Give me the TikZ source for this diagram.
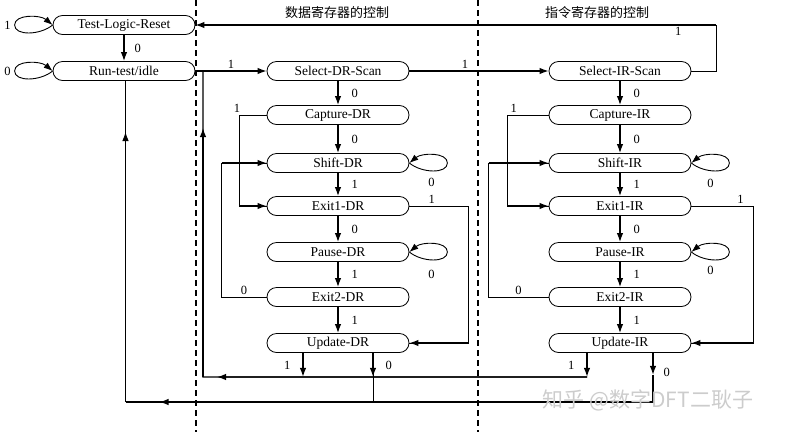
\documentclass[tikz,border=0pt]{standalone}
\usepackage{fontspec}
\setmainfont{Liberation Serif}
\newfontfamily\cjk{Noto Sans CJK SC}
\usepackage{tikz}
\usetikzlibrary{arrows.meta,positioning}

\begin{document}
\begin{tikzpicture}[x=1pt, y=-1pt,
    fsm/.style={draw, line width=0.8pt, rounded corners=9.5pt, minimum width=142pt,
      minimum height=19pt, inner sep=0pt, font=\fontsize{13.5}{15}\selectfont},
    lbl/.style={font=\fontsize{12.5}{14}\selectfont, inner sep=2pt},
    bus/.style={line width=1.3pt},
    wire/.style={line width=0.9pt},
    tip/.style={-{Latex[length=9pt,width=6.5pt]}},
    divider/.style={line width=1.4pt, dash pattern=on 6pt off 4pt},
    title/.style={font=\cjk\fontsize{13}{15}\selectfont}]
        \useasboundingbox (0,0) rectangle (785,432);
        % column dividers and titles
        \draw[divider] (196,0) -- (196,432);
        \draw[divider] (478,0) -- (478,432);
        \node[title] (tdr) at (337,13) {数据寄存器的控制};
        \node[title] (tir) at (597,13) {指令寄存器的控制};

        % reset and idle
        \node[fsm] (tlr) at (124,25) {Test-Logic-Reset};
        \node[fsm] (rti) at (124,71) {Run-test/idle};
        % data register column
        \node[fsm] (sdr) at (338,71) {Select-DR-Scan};
        \node[fsm] (cdr) at (338,115) {Capture-DR};
        \node[fsm] (shdr) at (338,163) {Shift-DR};
        \node[fsm] (e1dr) at (338,206) {Exit1-DR};
        \node[fsm] (pdr) at (338,252) {Pause-DR};
        \node[fsm] (e2dr) at (338,297) {Exit2-DR};
        \node[fsm] (udr) at (338,343) {Update-DR};
        % instruction register column
        \node[fsm] (sir) at (620,71) {Select-IR-Scan};
        \node[fsm] (cir) at (620,115) {Capture-IR};
        \node[fsm] (shir) at (620,163) {Shift-IR};
        \node[fsm] (e1ir) at (620,206) {Exit1-IR};
        \node[fsm] (pir) at (620,252) {Pause-IR};
        \node[fsm] (e2ir) at (620,297) {Exit2-IR};
        \node[fsm] (uir) at (620,343) {Update-IR};

        % self loops
        \draw[wire,tip] (tlr.west) .. controls +(-140:16pt) and +(-90:11pt) .. ([xshift=-38pt]tlr.west)
          .. controls +(90:11pt) and +(140:16pt) .. (tlr.west);
        \node[lbl] (ltlr) at ([xshift=-45pt]tlr.west) {1};
        \draw[wire,tip] (rti.west) .. controls +(-140:16pt) and +(-90:11pt) .. ([xshift=-38pt]rti.west)
          .. controls +(90:11pt) and +(140:16pt) .. (rti.west);
        \node[lbl] (lrti) at ([xshift=-45pt]rti.west) {0};
        \draw[wire,tip] (shdr.east) .. controls +(-40:16pt) and +(-90:11pt) .. ([xshift=38pt]shdr.east)
          .. controls +(90:11pt) and +(40:16pt) .. (shdr.east);
        \node[lbl] (lshdr) at ([xshift=22pt,yshift=-19pt]shdr.east) {0};
        \draw[wire,tip] (pdr.east) .. controls +(-40:16pt) and +(-90:11pt) .. ([xshift=38pt]pdr.east)
          .. controls +(90:11pt) and +(40:16pt) .. (pdr.east);
        \node[lbl] (lpdr) at ([xshift=22pt,yshift=-22pt]pdr.east) {0};
        \draw[wire,tip] (shir.east) .. controls +(-40:16pt) and +(-90:11pt) .. ([xshift=38pt]shir.east)
          .. controls +(90:11pt) and +(40:16pt) .. (shir.east);
        \node[lbl] (lshir) at ([xshift=19pt,yshift=-20pt]shir.east) {0};
        \draw[wire,tip] (pir.east) .. controls +(-40:16pt) and +(-90:11pt) .. ([xshift=38pt]pir.east)
          .. controls +(90:11pt) and +(40:16pt) .. (pir.east);
        \node[lbl] (lpir) at ([xshift=19pt,yshift=-18pt]pir.east) {0};

        % straight transitions
        \draw[bus,tip] (tlr) -- node[lbl,right=8pt]{0} (rti);
        \draw[bus,tip] (rti.east) -- node[lbl,above]{1} (sdr.west);
        \draw[bus,tip] (sdr.east) -- node[lbl,above,pos=0.4]{1} (sir.west);
        \draw[bus,tip] (sdr) -- node[lbl,right=11pt]{0} (cdr);
        \draw[bus,tip] (cdr) -- node[lbl,right=11pt]{0} (shdr);
        \draw[bus,tip] (shdr) -- node[lbl,right=11pt]{1} (e1dr);
        \draw[bus,tip] (e1dr) -- node[lbl,right=11pt]{0} (pdr);
        \draw[bus,tip] (pdr) -- node[lbl,right=11pt]{1} (e2dr);
        \draw[bus,tip] (e2dr) -- node[lbl,right=11pt]{1} (udr);
        \draw[bus,tip] (sir) -- node[lbl,right=11pt]{0} (cir);
        \draw[bus,tip] (cir) -- node[lbl,right=11pt]{0} (shir);
        \draw[bus,tip] (shir) -- node[lbl,right=11pt]{1} (e1ir);
        \draw[bus,tip] (e1ir) -- node[lbl,right=11pt]{0} (pir);
        \draw[bus,tip] (pir) -- node[lbl,right=11pt]{1} (e2ir);
        \draw[bus,tip] (e2ir) -- node[lbl,right=11pt]{1} (uir);

        % side branches, data register
        \draw[wire] (cdr.west) -- ++(-27,0) coordinate (kcdr) node[lbl,above,pos=1.1]{1} |- (e1dr.west);
        \draw[bus,tip] (kcdr |- e1dr.west) -- (e1dr.west);
        \draw[wire] (e2dr.west) -- node[lbl,above]{0} ++(-45,0) coordinate (ke2dr) |- (shdr.west);
        \draw[bus,tip] (ke2dr |- shdr.west) -- (shdr.west);
        \draw[wire] (e1dr.east) -- node[lbl,above,pos=0.38]{1} ++(59,0) coordinate (ke1dr) |- (udr.east);
        \draw[bus,tip] (ke1dr |- udr.east) -- (udr.east);
        % side branches, instruction register
        \draw[wire] (cir.west) -- ++(-41,0) coordinate (kcir) node[lbl,above,pos=0.85]{1} |- (e1ir.west);
        \draw[bus,tip] (kcir |- e1ir.west) -- (e1ir.west);
        \draw[wire] (e2ir.west) -- node[lbl,above]{0} ++(-60,0) coordinate (ke2ir) |- (shir.west);
        \draw[bus,tip] (ke2ir |- shir.west) -- (shir.west);
        \draw[wire] (e1ir.east) -- node[lbl,above,pos=0.79]{1} ++(62,0) coordinate (ke1ir) |- (uir.east);
        \draw[bus,tip] (ke1ir |- uir.east) -- (uir.east);

        % Select-IR-Scan back to reset
        \draw[wire] (sir.east) -- ++(25,0) coordinate (ksir) -- (ksir |- tlr.east);
        \draw[bus,tip] (ksir |- tlr.east) -- node[lbl,below,pos=0.073]{1} (tlr.east);

        % exits from the update states
        \coordinate (r1) at (203,377);
        \coordinate (r0) at (125.5,402);
        \draw[bus,tip] ([xshift=-35pt]udr.south) -- ++(0,24) node[lbl,left=10pt,midway]{1};
        \draw[bus,tip] ([xshift=35pt]udr.south) -- ++(0,24) node[lbl,right=10pt,midway]{0};
        \draw[wire] ([xshift=35pt]udr.south) -- ++(0,49);
        \draw[bus,tip] ([xshift=-33pt]uir.south) -- ++(0,24) node[lbl,left=10pt,midway]{1} coordinate (j1);
        \draw[bus,tip] ([xshift=33pt]uir.south) -- ++(0,22) node[lbl,right=8pt,pos=0.9]{0} coordinate (j0);
        % return to Select-DR-Scan
        \draw[bus] (j1) -- (r1) -- (r1 |- rti.east);
        \draw[bus,tip] (j1) -- ([xshift=14pt]r1);
        \draw[bus,tip] (r1) -- ++(0,-249);
        % return to Run-test/idle
        \draw[bus] (j0) -- (j0 |- r0) -- (r0);
        \draw[bus,tip] (j0 |- r0) -- ([xshift=34pt]r0);
        \draw[wire] (r0) -- (r0 |- rti.south);
        \draw[wire,tip] (r0) -- ++(0,-270);

        \node[text=gray!40, font=\cjk\fontsize{21}{24}\selectfont] (wm) at (648,400) {知乎 @数字DFT二耿子};
\end{tikzpicture}
\end{document}
